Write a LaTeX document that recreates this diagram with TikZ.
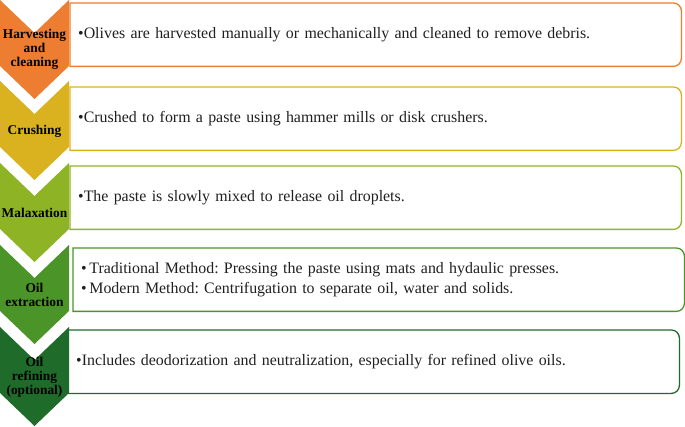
\documentclass[tikz,border=0pt]{standalone}
\usepackage{fontspec}
\setmainfont{Liberation Serif}
\usetikzlibrary{positioning}
\definecolor{harvestcol}{RGB}{237,125,49}
\definecolor{crushcol}{RGB}{218,178,32}
\definecolor{malaxcol}{RGB}{142,180,38}
\definecolor{extractcol}{RGB}{74,148,40}
\definecolor{refinecol}{RGB}{30,107,42}
\frenchspacing

\begin{document}
\begin{tikzpicture}[x=1pt,y=-1pt,align=center]
\tikzstyle{steplabel}=[font=\fontsize{13.4}{14}\selectfont\bfseries,text=black,inner sep=0pt]
\tikzstyle{stepbox}=[anchor=north west,minimum width=611pt,minimum height=63pt,text width=595pt,align=left,inner xsep=8pt,inner ysep=0pt,font=\fontsize{15.9}{20}\selectfont,text=black!88]
\tikzstyle{outline}=[line width=1.3pt]

\useasboundingbox (0,0) rectangle (685,427);

% chevrons
\fill[harvestcol] (0,0) -- (34.5,33) -- (69,0) -- (69,66) -- (34.5,99) -- (0,66) -- cycle;
\fill[crushcol] (0,81) -- (34.5,114) -- (69,81) -- (69,147) -- (34.5,180) -- (0,147) -- cycle;
\fill[malaxcol] (0,163) -- (34.5,196) -- (69,163) -- (69,229) -- (34.5,262) -- (0,229) -- cycle;
\fill[extractcol] (0,245) -- (34.5,278) -- (69,245) -- (69,311) -- (34.5,344) -- (0,311) -- cycle;
\fill[refinecol] (0,327) -- (34.5,360) -- (69,327) -- (69,393) -- (34.5,426) -- (0,393) -- cycle;

\node[steplabel] (harvest) at (34.5,49) {Harvesting\\and\\cleaning};
\node[steplabel] (crush) at (34.5,131) {Crushing};
\node[steplabel] (malax) at (34.5,213) {Malaxation};
\node[steplabel] (extract) at (34.5,295) {Oil\\extraction};
\node[steplabel] (refine) at (34.5,377) {Oil\\refining\\(optional)};

% text boxes
\node[stepbox] (b1) at (70,3) {•Olives are harvested manually or mechanically and cleaned to remove debris.};
\node[stepbox] (b2) at (70,87) {•Crushed to form a paste using hammer mills or disk crushers.};
\node[stepbox] (b3) at (70,166) {•The paste is slowly mixed to release oil droplets.};
\node[stepbox] (b4) at (73,248) {•\,Traditional Method: Pressing the paste using mats and hydaulic presses.\\•\,Modern Method: Centrifugation to separate oil, water and solids.};
\node[stepbox] (b5) at (68,330) {•Includes deodorization and neutralization, especially for refined olive oils.};

\draw[outline,draw=harvestcol] (b1.north west) -- (b1.north) [rounded corners=8pt] -- (b1.north east) -- (b1.south east) -- (b1.south) [sharp corners] -- (b1.south west) -- cycle;
\draw[outline,draw=crushcol] (b2.north west) -- (b2.north) [rounded corners=8pt] -- (b2.north east) -- (b2.south east) -- (b2.south) [sharp corners] -- (b2.south west) -- cycle;
\draw[outline,draw=malaxcol] (b3.north west) -- (b3.north) [rounded corners=8pt] -- (b3.north east) -- (b3.south east) -- (b3.south) [sharp corners] -- (b3.south west) -- cycle;
\draw[outline,draw=extractcol] (b4.north west) -- (b4.north) [rounded corners=8pt] -- (b4.north east) -- (b4.south east) -- (b4.south) [sharp corners] -- (b4.south west) -- cycle;
\draw[outline,draw=refinecol] (b5.north west) -- (b5.north) [rounded corners=8pt] -- (b5.north east) -- (b5.south east) -- (b5.south) [sharp corners] -- (b5.south west) -- cycle;
\end{tikzpicture}
\end{document}
